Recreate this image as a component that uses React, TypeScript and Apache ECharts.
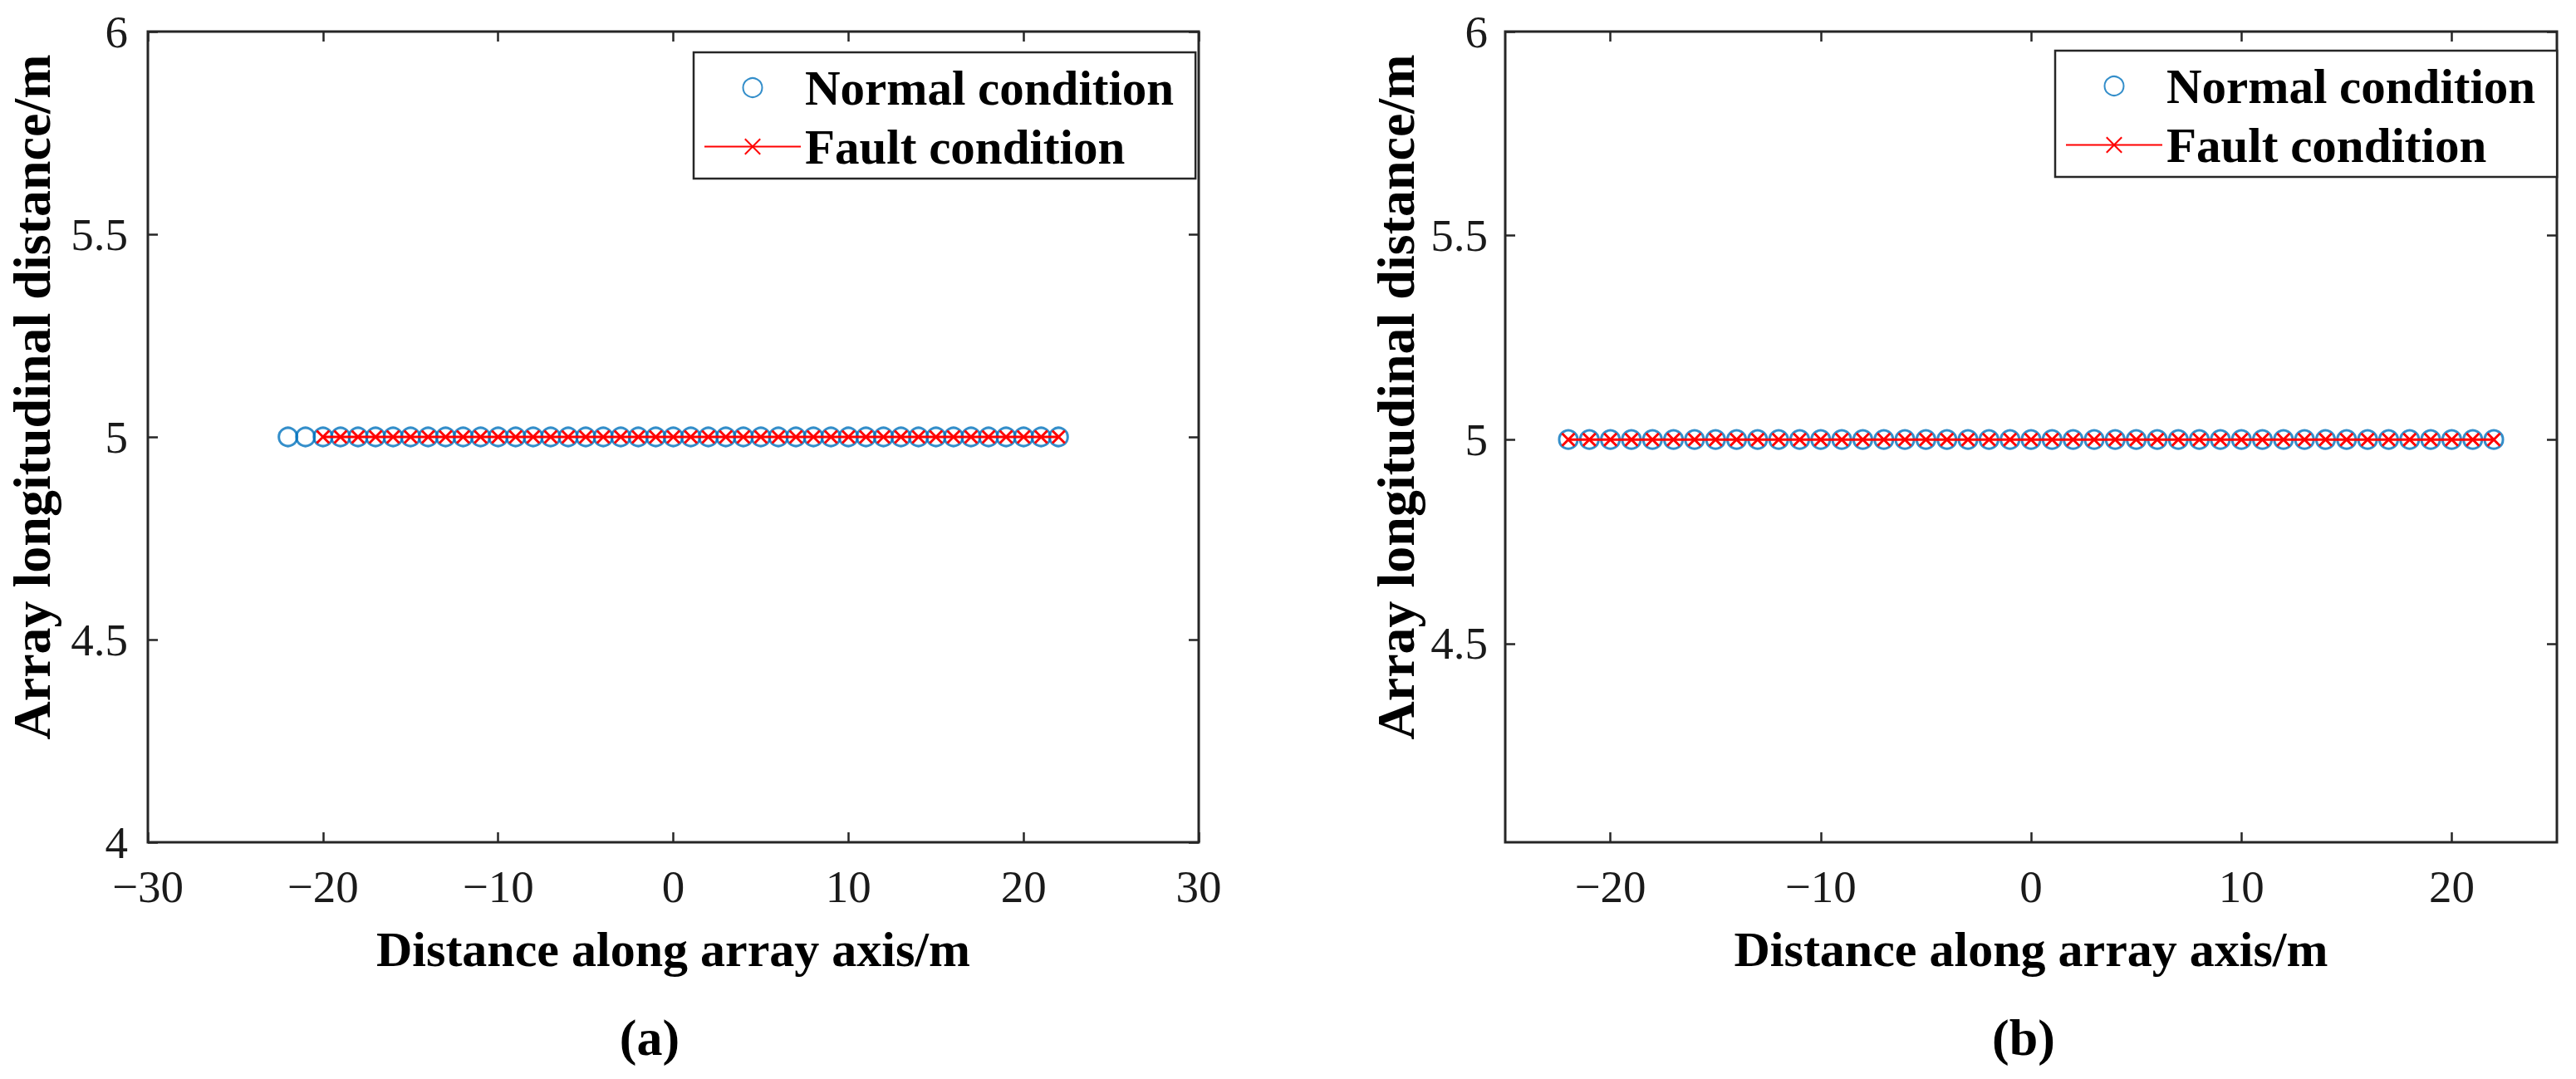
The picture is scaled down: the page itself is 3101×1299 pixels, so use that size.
import React, { useEffect, useRef } from "react";
import * as echarts from "echarts";

// ---- Data ----
const normalXA = [-22, -21, -20, -19, -18, -17, -16, -15, -14, -13, -12, -11, -10, -9, -8, -7, -6, -5, -4, -3, -2, -1, 0, 1, 2, 3, 4, 5, 6, 7, 8, 9, 10, 11, 12, 13, 14, 15, 16, 17, 18, 19, 20, 21, 22];
const normalYA = [5, 5, 5, 5, 5, 5, 5, 5, 5, 5, 5, 5, 5, 5, 5, 5, 5, 5, 5, 5, 5, 5, 5, 5, 5, 5, 5, 5, 5, 5, 5, 5, 5, 5, 5, 5, 5, 5, 5, 5, 5, 5, 5, 5, 5];
const faultXA = [-20, -19, -18, -17, -16, -15, -14, -13, -12, -11, -10, -9, -8, -7, -6, -5, -4, -3, -2, -1, 0, 1, 2, 3, 4, 5, 6, 7, 8, 9, 10, 11, 12, 13, 14, 15, 16, 17, 18, 19, 20, 21, 22];
const faultYA = [5, 5, 5, 5, 5, 5, 5, 5, 5, 5, 5, 5, 5, 5, 5, 5, 5, 5, 5, 5, 5, 5, 5, 5, 5, 5, 5, 5, 5, 5, 5, 5, 5, 5, 5, 5, 5, 5, 5, 5, 5, 5, 5];
const normalXB = [-22, -21, -20, -19, -18, -17, -16, -15, -14, -13, -12, -11, -10, -9, -8, -7, -6, -5, -4, -3, -2, -1, 0, 1, 2, 3, 4, 5, 6, 7, 8, 9, 10, 11, 12, 13, 14, 15, 16, 17, 18, 19, 20, 21, 22];
const normalYB = [5, 5, 5, 5, 5, 5, 5, 5, 5, 5, 5, 5, 5, 5, 5, 5, 5, 5, 5, 5, 5, 5, 5, 5, 5, 5, 5, 5, 5, 5, 5, 5, 5, 5, 5, 5, 5, 5, 5, 5, 5, 5, 5, 5, 5];
const faultXB = [-22, -21, -20, -19, -18, -17, -16, -15, -14, -13, -12, -11, -10, -9, -8, -7, -6, -5, -4, -3, -2, -1, 0, 1, 2, 3, 4, 5, 6, 7, 8, 9, 10, 11, 12, 13, 14, 15, 16, 17, 18, 19, 20, 21, 22];
const faultYB = [5, 5, 5, 5, 5, 5, 5, 5, 5, 5, 5, 5, 5, 5, 5, 5, 5, 5, 5, 5, 5, 5, 5, 5, 5, 5, 5, 5, 5, 5, 5, 5, 5, 5, 5, 5, 5, 5, 5, 5, 5, 5, 5, 5, 5];

const xTicksA = [-30, -20, -10, 0, 10, 20, 30];
const yTicksA = [4, 4.5, 5, 5.5, 6];
const xTicksB = [-20, -10, 0, 10, 20];
const yTicksB = [4.5, 5, 5.5, 6];
const xRangeA = [-30, 30];
const yRangeA = [4, 6];
const xRangeB = [-25, 25];
const yRangeB = [4.013, 6];

const seriesNames = ["Normal condition", "Fault condition"];
const panelLabels = ["(a)", "(b)"];
const xAxisTitle = "Distance along array axis/m";
const yAxisTitle = "Array longitudinal distance/m";

// ---- Styles ----
const FONT = "'Liberation Serif', 'Times New Roman', serif";
const AXIS_COLOR = "#262626";
const BLUE = "#0072BD";
const RED = "#FF0000";
const X_SYMBOL = "path://M0,0L20,20M20,0L0,20";

const zip = (xs: number[], ys: number[]) => xs.map((x, i) => [x, ys[i]]);
const fmt = (v: number) => (v < 0 ? "\u2212" + Math.abs(v) : String(v));

const tickStyle = { color: AXIS_COLOR, width: 2.5 };

function mainX(gridIndex: number, range: number[], ticks: number[]) {
  return {
    type: "value",
    gridIndex,
    min: range[0],
    max: range[1],
    position: "bottom",
    name: xAxisTitle,
    nameLocation: "middle",
    nameGap: 99,
    nameTextStyle: { fontFamily: FONT, fontWeight: "bold", fontSize: 60, color: "#000" },
    axisLine: { show: false, onZero: false },
    axisTick: { show: true, inside: true, length: 12, lineStyle: tickStyle, customValues: ticks },
    axisLabel: {
      show: true,
      margin: 26,
      fontFamily: FONT,
      fontSize: 55,
      color: "#1a1a1a",
      formatter: fmt,
      customValues: ticks,
    },
    splitLine: { show: false },
  };
}

function topX(gridIndex: number, range: number[], ticks: number[]) {
  return {
    type: "value",
    gridIndex,
    min: range[0],
    max: range[1],
    position: "top",
    axisLine: { show: false, onZero: false },
    axisTick: { show: true, inside: true, length: 12, lineStyle: tickStyle, customValues: ticks },
    axisLabel: { show: false, customValues: ticks },
    splitLine: { show: false },
  };
}

function mainY(gridIndex: number, range: number[], ticks: number[], nameGap: number, margin: number) {
  return {
    type: "value",
    gridIndex,
    min: range[0],
    max: range[1],
    position: "left",
    name: yAxisTitle,
    nameLocation: "middle",
    nameGap,
    nameTextStyle: {
      fontFamily: FONT,
      fontWeight: "bold",
      fontSize: 64,
      color: "#000",
      padding: [0, 0, 0, 96],
    },
    axisLine: { show: false, onZero: false },
    axisTick: { show: true, inside: true, length: 12, lineStyle: tickStyle, customValues: ticks },
    axisLabel: {
      show: true,
      margin,
      fontFamily: FONT,
      fontSize: 55,
      color: "#1a1a1a",
      formatter: fmt,
      customValues: ticks,
    },
    splitLine: { show: false },
  };
}

function rightY(gridIndex: number, range: number[], ticks: number[]) {
  return {
    type: "value",
    gridIndex,
    min: range[0],
    max: range[1],
    position: "right",
    axisLine: { show: false, onZero: false },
    axisTick: { show: true, inside: true, length: 12, lineStyle: tickStyle, customValues: ticks },
    axisLabel: { show: false, customValues: ticks },
    splitLine: { show: false },
  };
}

function normalSeries(axisIndex: number, xs: number[], ys: number[]) {
  return {
    type: "scatter",
    name: seriesNames[0],
    xAxisIndex: axisIndex,
    yAxisIndex: axisIndex,
    data: zip(xs, ys),
    symbol: "circle",
    symbolSize: 22,
    itemStyle: { color: "rgba(0,0,0,0)", borderColor: BLUE, borderWidth: 3 },
    z: 2,
  };
}

function faultSeries(axisIndex: number, xs: number[], ys: number[]) {
  return {
    type: "line",
    name: seriesNames[1],
    xAxisIndex: axisIndex,
    yAxisIndex: axisIndex,
    data: zip(xs, ys),
    symbol: X_SYMBOL,
    symbolSize: 15,
    showSymbol: true,
    showAllSymbol: true,
    lineStyle: { color: RED, width: 3 },
    itemStyle: { color: RED, borderColor: RED, borderWidth: 3 },
    z: 3,
  };
}

function legendAt(left: number, top: number) {
  return {
    left,
    top,
    orient: "vertical",
    data: seriesNames,
    itemWidth: 116,
    itemHeight: 23,
    itemGap: 12,
    padding: [13, 26, 9, 12],
    borderColor: AXIS_COLOR,
    borderWidth: 2.5,
    backgroundColor: "#fff",
    selectedMode: false,
    textStyle: { fontFamily: FONT, fontWeight: "bold", fontSize: 59, color: "#000" },
  };
}

export default function App() {
  const ref = useRef<HTMLDivElement>(null);

  useEffect(() => {
    if (!ref.current) return;
    const chart = echarts.init(ref.current, undefined, { renderer: "svg" });
    const gridBase = {
      top: 38,
      height: 976,
      show: true,
      borderColor: AXIS_COLOR,
      borderWidth: 3,
      backgroundColor: "rgba(0,0,0,0)",
    };
    const option: any = {
      animation: false,
      backgroundColor: "#fff",
      grid: [
        { ...gridBase, left: 178, width: 1265 },
        { ...gridBase, left: 1812, width: 1266 },
      ],
      xAxis: [
        mainX(0, xRangeA, xTicksA),
        mainX(1, xRangeB, xTicksB),
        topX(0, xRangeA, xTicksA),
        topX(1, xRangeB, xTicksB),
      ],
      yAxis: [
        mainY(0, yRangeA, yTicksA, 108, 24),
        mainY(1, yRangeB, yTicksB, 100, 21),
        rightY(0, yRangeA, yTicksA),
        rightY(1, yRangeB, yTicksB),
      ],
      legend: [legendAt(835, 63), legendAt(2474, 61)],
      series: [
        normalSeries(0, normalXA, normalYA),
        faultSeries(0, faultXA, faultYA),
        normalSeries(1, normalXB, normalYB),
        faultSeries(1, faultXB, faultYB),
      ],
      graphic: panelLabels.map((t, i) => ({
        type: "text",
        x: [782, 2436][i],
        y: 1249,
        style: {
          text: t,
          textAlign: "center",
          textVerticalAlign: "middle",
          fontFamily: FONT,
          fontWeight: "bold",
          fontSize: 62,
          fill: "#000",
        },
      })),
    };
    chart.setOption(option);
    return () => chart.dispose();
  }, []);

  return (
    <div
      ref={ref}
      style={{ position: "absolute", left: 0, top: 0, width: 3101, height: 1299 }}
    />
  );
}
